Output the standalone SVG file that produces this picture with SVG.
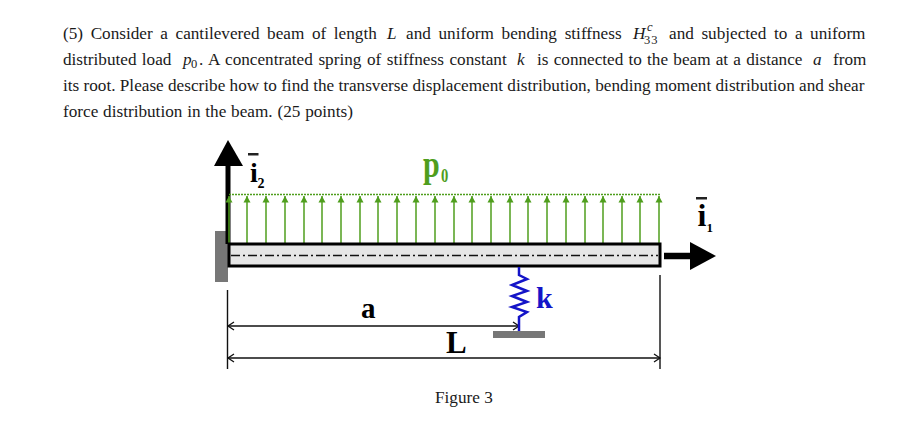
<svg xmlns="http://www.w3.org/2000/svg" width="920" height="431" viewBox="0 0 920 431">
<style>
text{font-family:"Liberation Serif","Times New Roman",serif;fill:#1a1a1a}
.t{font-size:17.2px}
.i{font-style:italic}
.b{font-weight:bold;fill:#000}
.g{stroke:#4f9e1d;stroke-width:1.5;fill:none;marker-end:url(#up)}
.d{stroke:#111;stroke-width:1.4;fill:none}
</style>
<defs>
<marker id="up" markerUnits="userSpaceOnUse" markerWidth="8" markerHeight="7" refX="3.5" refY="0" orient="0" viewBox="0 0 7 7" overflow="visible"><path d="M0 6.500L3.500 0L7 6.500Z" fill="#4f9e1d"/></marker>
<marker id="open" markerUnits="userSpaceOnUse" markerWidth="8" markerHeight="10" refX="7" refY="4" orient="auto-start-reverse" viewBox="0 0 8 8" overflow="visible"><path d="M1 0L7 4L1 8" fill="none" stroke="#111" stroke-width="1.3"/></marker>
</defs>
<g id="question">
<text class="t" x="63" y="39" word-spacing="3.3">(5) Consider a cantilevered beam of length</text>
<text class="t i" x="387" y="39">L</text>
<text class="t" x="406" y="39" word-spacing="3.4">and uniform bending stiffness</text>
<text class="t i" x="633" y="39">H</text>
<text x="644" y="44" font-size="12.500" letter-spacing="1">33</text>
<text class="i" x="647" y="31" font-size="12.500">c</text>
<text class="t" x="669" y="39" word-spacing="3.3">and subjected to a uniform</text>
<text class="t" x="63" y="65" word-spacing="1">distributed load</text>
<text class="t i" x="183" y="65">p</text>
<text x="191" y="68" font-size="12.500">0</text>
<text class="t" x="199" y="65" word-spacing="1.3">. A concentrated spring of stiffness constant</text>
<text class="t i" x="517" y="65">k</text>
<text class="t" x="537" y="65" word-spacing="0.9">is connected to the beam at a distance</text>
<text class="t i" x="813" y="65">a</text>
<text class="t" x="833" y="65">from</text>
<text class="t" x="63" y="91">its root. Please describe how to find the transverse displacement distribution, bending moment distribution and shear</text>
<text class="t" x="63" y="117" word-spacing="0.5">force distribution in the beam. (25 points)</text>
</g>
<g id="wall"><rect x="215" y="231" width="13" height="51" fill="#777"/></g>
<g id="axis-i2">
<path d="M228 166V244" stroke="#000" stroke-width="5" fill="none"/>
<path d="M228 140L243 166H214Z" fill="#000"/>
<rect x="248" y="153" width="10.500" height="2.500" fill="#222"/>
<text class="b" x="250" y="182" font-size="28">i</text>
<text class="b" x="257.500" y="188" font-size="14">2</text>
</g>
<g id="load">
<path d="M229 194.500H660" stroke="#4f9e1d" stroke-width="1.300" stroke-dasharray="2 1" fill="none"/>
<text class="b" style="fill:#4f9e1d" transform="translate(423 177) scale(1 1.250)" font-size="30">p</text>
<text class="b" style="fill:#4f9e1d" transform="translate(441 182) scale(.75 1)" font-size="19.500">0</text>
</g>
<g id="connectors">
<path class="g" d="M229 244V196"/><path class="g" d="M247 244V196"/><path class="g" d="M266 244V196"/><path class="g" d="M285 244V196"/><path class="g" d="M304 244V196"/><path class="g" d="M322 244V196"/><path class="g" d="M341 244V196"/><path class="g" d="M360 244V196"/><path class="g" d="M378 244V196"/><path class="g" d="M397 244V196"/><path class="g" d="M416 244V196"/><path class="g" d="M435 244V196"/><path class="g" d="M454 244V196"/><path class="g" d="M472 244V196"/><path class="g" d="M491 244V196"/><path class="g" d="M510 244V196"/><path class="g" d="M528 244V196"/><path class="g" d="M547 244V196"/><path class="g" d="M566 244V196"/><path class="g" d="M585 244V196"/><path class="g" d="M603 244V196"/><path class="g" d="M622 244V196"/><path class="g" d="M640 244V196"/><path class="g" d="M659 244V196"/>
<path class="d" d="M227.500 290V369M660 275V369"/>
<path class="d" marker-start="url(#open)" marker-end="url(#open)" d="M228 326H519"/>
<path class="d" marker-start="url(#open)" marker-end="url(#open)" d="M228 358H660"/>
</g>
<g id="beam">
<rect x="229" y="244" width="431" height="22" fill="#e6e6e6" stroke="#000" stroke-width="3"/>
<path d="M231 255.500H658" stroke="#111" stroke-width="1.300" stroke-dasharray="9 3 2 3" fill="none"/>
</g>
<g id="axis-i1">
<path d="M664 256H690" stroke="#000" stroke-width="6.500" fill="none"/>
<path d="M690 242L716 256L690 270Z" fill="#000"/>
<rect x="696" y="197" width="11" height="2.500" fill="#222"/>
<text class="b" x="697.500" y="226" font-size="32">i</text>
<text class="b" x="706.500" y="232" font-size="13">1</text>
</g>
<g id="spring">
<path d="M519 267V275L527 279L512 285L527 291L512 296L527 302L512 307L527 312L519 317V331" fill="none" stroke="#1414c8" stroke-width="2.500"/>
<rect x="493" y="331" width="52" height="7" fill="#777"/>
<text class="b" style="fill:#1414c8" x="536" y="308" font-size="30">k</text>
</g>
<g id="labels">
<text class="b" x="361" y="318" font-size="29">a</text>
<text class="b" x="446" y="353" font-size="31">L</text>
<text class="t" x="435" y="403">Figure 3</text>
</g>
</svg>
